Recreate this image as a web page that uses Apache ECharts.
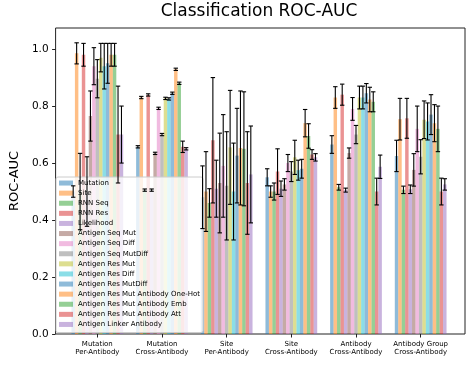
<!DOCTYPE html>
<html><head><meta charset="utf-8">
<script src="https://cdn.jsdelivr.net/npm/echarts@6/dist/echarts.min.js"></script>
<style>html,body{margin:0;padding:0;background:#fff}#c{width:474px;height:366px}</style>
</head><body><div id="c"></div>
<script>
const categories = ['Mutation\nPer-Antibody','Mutation\nCross-Antibody','Site\nPer-Antibody','Site\nCross-Antibody','Antibody\nCross-Antibody','Antibody Group\nCross-Antibody'];
const seriesNames = ['Mutation','Site','RNN Seq','RNN Res','Likelihood','Antigen Seq Mut','Antigen Seq Diff','Antigen Seq MutDiff','Antigen Res Mut','Antigen Res Diff','Antigen Res MutDiff','Antigen Res Mut Antibody One-Hot','Antigen Res Mut Antibody Emb','Antigen Res Mut Antibody Att','Antigen Linker Antibody'];
const yTicks = [0, 0.2, 0.4, 0.6, 0.8, 1.0];

const mutation      = [0.50, 0.657, 0.48, 0.55, 0.665, 0.625];
const site          = [0.985, 0.83, 0.50, 0.50, 0.83, 0.754];
const rnnSeq        = [0.50, 0.505, 0.46, 0.50, 0.515, 0.506];
const rnnRes        = [0.98, 0.839, 0.68, 0.57, 0.84, 0.757];
const likelihood    = [0.50, 0.505, 0.51, 0.51, 0.505, 0.508];
const agSeqMut      = [0.765, 0.634, 0.53, 0.525, 0.635, 0.576];
const agSeqDiff     = [0.94, 0.792, 0.59, 0.60, 0.79, 0.72];
const agSeqMutDiff  = [0.896, 0.70, 0.52, 0.57, 0.70, 0.622];
const agResMut      = [0.97, 0.827, 0.655, 0.62, 0.83, 0.752];
const agResDiff     = [0.94, 0.825, 0.50, 0.575, 0.83, 0.746];
const agResMutDiff  = [0.95, 0.845, 0.626, 0.58, 0.845, 0.77];
const abOneHot      = [0.98, 0.929, 0.653, 0.74, 0.823, 0.74];
const abEmb         = [0.98, 0.88, 0.65, 0.695, 0.815, 0.72];
const abAtt         = [0.70, 0.657, 0.53, 0.63, 0.50, 0.50];
const linker        = [0.70, 0.65, 0.56, 0.62, 0.587, 0.525];

const mutationErr     = [0.02, 0.004, 0.11, 0.03, 0.031, 0.055];
const siteErr         = [0.037, 0.004, 0.14, 0.02, 0.038, 0.073];
const rnnSeqErr       = [0.134, 0.004, 0.05, 0.03, 0.01, 0.013];
const rnnResErr       = [0.04, 0.004, 0.22, 0.08, 0.037, 0.07];
const likelihoodErr   = [0.122, 0.004, 0.10, 0.027, 0.007, 0.015];
const agSeqMutErr     = [0.088, 0.004, 0.175, 0.02, 0.018, 0.057];
const agSeqDiffErr    = [0.065, 0.004, 0.18, 0.03, 0.04, 0.08];
const agSeqMutDiffErr = [0.067, 0.004, 0.19, 0.035, 0.032, 0.06];
const agResMutErr     = [0.05, 0.004, 0.20, 0.06, 0.04, 0.066];
const agResDiffErr    = [0.08, 0.004, 0.17, 0.035, 0.04, 0.065];
const agResMutDiffErr = [0.07, 0.004, 0.166, 0.033, 0.034, 0.07];
const abOneHotErr     = [0.04, 0.004, 0.20, 0.048, 0.043, 0.065];
const abEmbErr        = [0.04, 0.004, 0.20, 0.043, 0.035, 0.08];
const abAttErr        = [0.17, 0.02, 0.18, 0.017, 0.047, 0.047];
const linkerErr       = [0.10, 0.004, 0.17, 0.013, 0.041, 0.02];

const values = [mutation, site, rnnSeq, rnnRes, likelihood, agSeqMut, agSeqDiff, agSeqMutDiff, agResMut, agResDiff, agResMutDiff, abOneHot, abEmb, abAtt, linker];
const errors = [mutationErr, siteErr, rnnSeqErr, rnnResErr, likelihoodErr, agSeqMutErr, agSeqDiffErr, agSeqMutDiffErr, agResMutErr, agResDiffErr, agResMutDiffErr, abOneHotErr, abEmbErr, abAttErr, linkerErr];

const palette = ['rgba(31,119,180,0.5)','rgba(255,127,14,0.5)','rgba(44,160,44,0.5)','rgba(214,39,40,0.5)','rgba(148,103,189,0.5)','rgba(140,86,75,0.5)','rgba(227,119,194,0.5)','rgba(127,127,127,0.5)','rgba(188,189,34,0.5)','rgba(23,190,207,0.5)'];

const FONT = 'DejaVu Sans';
const YMAX = 1.074;
const N = seriesNames.length;

const chart = echarts.init(document.getElementById('c'), null, {renderer: 'canvas'});

const series = seriesNames.map((name, i) => ({
  type: 'bar', name: name, xAxisIndex: 0, yAxisIndex: 0,
  data: values[i], barGap: '0%', barCategoryGap: '20%',
  itemStyle: {color: palette[i % 10]}, silent: true, animation: false
}));

const errData = [];
values.forEach((arr, si) => arr.forEach((v, ci) => errData.push([ci, v, errors[si][ci], si])));

series.push({
  type: 'custom', xAxisIndex: 0, yAxisIndex: 0, animation: false, silent: true, z: 5,
  data: errData,
  encode: {x: 0, y: 1},
  renderItem: function (params, api) {
    const ci = api.value(0), v = api.value(1), e = api.value(2), si = api.value(3);
    const band = api.size([1, 0])[0];
    const bw = band * 0.8 / N;
    const off = (si - (N - 1) / 2) * bw;
    const top = api.coord([ci, v + e]);
    const bot = api.coord([ci, v - e]);
    const x = top[0] + off;
    const cap = 2.2;
    const st = {stroke: '#000', lineWidth: 1.1};
    return {type: 'group', children: [
      {type: 'line', shape: {x1: x, y1: top[1], x2: x, y2: bot[1]}, style: st},
      {type: 'line', shape: {x1: x - cap, y1: top[1], x2: x + cap, y2: top[1]}, style: st},
      {type: 'line', shape: {x1: x - cap, y1: bot[1], x2: x + cap, y2: bot[1]}, style: st}
    ]};
  }
});

chart.setOption({
  animation: false,
  backgroundColor: '#fff',
  textStyle: {fontFamily: FONT},
  title: {text: 'Classification ROC-AUC', left: 259, top: 3, textAlign: 'center', padding: 0,
    textStyle: {fontFamily: FONT, fontSize: 17, fontWeight: 'normal', color: '#000'}},
  grid: [
    {left: 65, right: 21, top: 28, bottom: 32, containLabel: false},
    {left: 53, right: 9, top: 28, bottom: 32, show: true, borderColor: '#222', borderWidth: 1, backgroundColor: 'transparent', z: 0}
  ],
  xAxis: [
    {type: 'category', gridIndex: 0, data: categories, boundaryGap: true,
      axisLine: {show: false}, axisTick: {show: true, alignWithLabel: true, length: 3.5, lineStyle: {color: '#222', width: 1}},
      axisLabel: {fontFamily: FONT, fontSize: 7, lineHeight: 8.3, color: '#000', margin: 6, interval: 0}},
    {type: 'value', gridIndex: 1, min: 0, max: 1, show: false}
  ],
  yAxis: [
    {type: 'value', gridIndex: 0, min: 0, max: YMAX, show: false},
    {type: 'value', gridIndex: 1, min: 0, max: YMAX,
      name: 'ROC-AUC', nameLocation: 'middle', nameGap: 33,
      nameTextStyle: {fontFamily: FONT, fontSize: 13, color: '#000'},
      axisLine: {show: false}, splitLine: {show: false},
      axisTick: {show: true, length: 3.5, lineStyle: {color: '#222', width: 1}, customValues: yTicks},
      axisLabel: {fontFamily: FONT, fontSize: 10.5, color: '#000', margin: 7, customValues: yTicks,
        formatter: v => Number(v).toFixed(1)}}
  ],
  legend: {
    data: seriesNames, orient: 'vertical', left: 56, top: 177,
    itemWidth: 14, itemHeight: 5, itemGap: 0, icon: 'rect',
    padding: [1, 3, 3, 3],
    backgroundColor: 'rgba(255,255,255,0.8)', borderColor: '#ccc', borderWidth: 1, borderRadius: 2,
    textStyle: {fontFamily: FONT, fontSize: 7, lineHeight: 10.1, color: '#000'},
    selectedMode: false
  },
  series: series
});
</script></body></html>
